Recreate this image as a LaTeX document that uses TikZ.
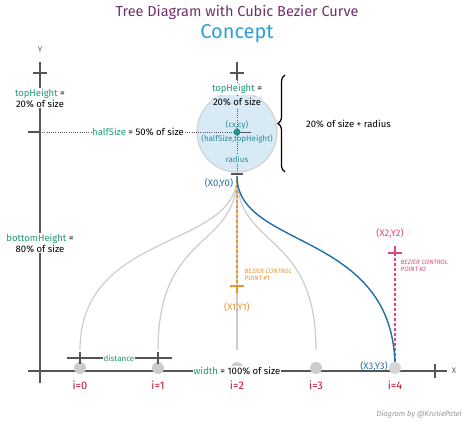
\documentclass[tikz,border=0pt]{standalone}
\usepackage{fontspec}
\setmainfont{Fira Sans}
\usetikzlibrary{decorations.pathreplacing}
\definecolor{ttlpurple}{HTML}{6E2F6E}
\definecolor{ttlblue}{HTML}{2E9FD6}
\definecolor{lblgreen}{HTML}{1E9A78}
\definecolor{lblteal}{HTML}{2A8C96}
\definecolor{crvblue}{HTML}{1F6FA8}
\definecolor{ctrlorange}{HTML}{E8952A}
\definecolor{ctrlpink}{HTML}{E0457B}
\definecolor{icrimson}{HTML}{C8102E}
\definecolor{cfill}{HTML}{D8EAF6}
\definecolor{axisgray}{HTML}{555555}
\definecolor{curvegray}{HTML}{CCCCCC}
\tikzset{
  axisline/.style={draw=axisgray, line width=1.3pt},
  dotline/.style={draw=axisgray, line width=1pt, dash pattern=on 1pt off 1.2pt},
  gcurve/.style={draw=curvegray, line width=1.2pt},
  lbl/.style={inner sep=1pt, font=\fontsize{9.5}{11}\selectfont},
  small/.style={inner sep=1pt, font=\fontsize{8}{9.5}\selectfont},
  coord/.style={inner sep=1pt, font=\fontsize{9.5}{11}\selectfont},
  tiny/.style={inner sep=0.5pt, font=\fontsize{6.3}{7.5}\selectfont\itshape, align=left},
  leaf/.style={circle, fill=curvegray, minimum size=12pt, inner sep=0pt},
  ilbl/.style={inner sep=1pt, text=icrimson, font=\fontsize{11}{12}\selectfont},
}
\begin{document}
\begin{tikzpicture}[x=1pt,y=-1pt]
\useasboundingbox (0,0) rectangle (474,428);
% titles
\node[text=ttlpurple, font=\fontsize{14.5}{16}\selectfont] (t1) at (237,12) {Tree Diagram with Cubic Bezier Curve};
\node[text=ttlblue, font=\fontsize{20}{22}\selectfont] (t2) at (237,34) {Concept};
% axes
\node[small, text=axisgray] (ylab) at (40,50) {Y};
\node[small, text=axisgray] (xlab) at (454,371) {X};
\coordinate (ytop) at (40,62); \coordinate (ybot) at (40,383);
\coordinate (xl) at (28,371); \coordinate (xr) at (447,371);
\draw[axisline] (ytop) -- (ybot);
\draw[axisline] (xl) -- (xr);
\coordinate (yt1a) at (33,73); \coordinate (yt1b) at (47,73);
\draw[axisline] (yt1a) -- (yt1b);
\coordinate (yt2a) at (28,132); \coordinate (yt2b) at (40,132);
\draw[axisline] (yt2a) -- (yt2b);
\coordinate (xta) at (435,364); \coordinate (xtb) at (435,378);
\draw[axisline] (xta) -- (xtb);
% left labels
\node[lbl, fill=white, align=center] (toph) at (40,98) {\textcolor{lblgreen}{topHeight} =\\20\% of size};
\node[lbl, fill=white, align=center] (both) at (40,243) {\textcolor{lblgreen}{bottomHeight} =\\80\% of size};
% circle
\node[circle, minimum size=80pt, inner sep=0pt, fill=cfill, draw=gray!35, line width=1.2pt] (circ) at (237,132) {};
\coordinate (vt0) at (237,62); \coordinate (vt1) at (237,80); \coordinate (vt2) at (237,172);
\draw[axisline] (vt0) -- (vt1);
\coordinate (vta) at (230,73); \coordinate (vtb) at (244,73);
\draw[axisline] (vta) -- (vtb);
\draw[dotline] (vt1) -- (vt2);
% halfSize line
\node[lbl] (half) at (138,132) {\textcolor{lblgreen}{halfSize} = 50\% of size};
\draw[dotline] (yt2b) -- (half.west);
\draw[dotline] (half.east) -- (circ.center);
\coordinate (cr) at (251,132);
\draw[axisline, line width=1pt] (circ.center) -- (cr);
\node[circle, fill=lblteal, minimum size=7pt, inner sep=0pt] (cdot) at (237,132) {};
% inside labels
\node[lbl, fill=white] (intop) at (237,89) {\textcolor{lblgreen}{topHeight} =};
\node[lbl, fill=cfill] (inpct) at (237,102) {20\% of size};
\node[small, text=lblteal] (cxcy) at (237,125) {(cx,cy)};
\node[small, text=lblteal] (hst) at (237,139) {(halfSize,topHeight)};
\node[small, text=lblteal, fill=cfill] (rad) at (237,159) {radius};
% brace
\coordinate (bra) at (285,75); \coordinate (brb) at (285,172);
\draw[line width=1.2pt, decorate, decoration={brace, amplitude=7pt}] (brb) -- (bra);
\node[lbl, anchor=west] (brl) at (305,124) {20\% of size + radius};
% root
\coordinate (root) at (237,176);
\coordinate (rta) at (231,174); \coordinate (rtb) at (243,174);
\node[coord, text=crvblue] (x0) at (219,183) {(X0,Y0)};
% gray curves
\coordinate (e0) at (80,350); \coordinate (e1) at (158,350);
\coordinate (e2) at (237,350); \coordinate (e3) at (316,350);
\draw[gcurve] (root) .. controls (237,250) and (80,230) .. (e0);
\draw[gcurve] (root) .. controls (237,250) and (158,230) .. (e1);
\draw[gcurve] (root) -- (e2);
\draw[gcurve] (root) .. controls (237,250) and (316,230) .. (e3);
% control point 1
\coordinate (o0) at (237,180); \coordinate (o1) at (237,286); \coordinate (o2) at (237,293);
\draw[ctrlorange, line width=1.4pt, dash pattern=on 3pt off 2pt] (o0) -- (o1);
\draw[ctrlorange, line width=1.4pt] (o1) -- (o2);
\coordinate (ota) at (230,286); \coordinate (otb) at (244,286);
\draw[ctrlorange, line width=1.4pt] (ota) -- (otb);
\node[coord, text=ctrlorange] (x1) at (237,307) {(X1,Y1)};
\node[tiny, text=ctrlorange, anchor=west] (b1) at (244,275) {BEZIER CONTROL\\POINT \#1};
% control point 2
\coordinate (p0) at (395,246); \coordinate (p1) at (395,253); \coordinate (p2) at (395,371);
\draw[ctrlpink, line width=1.4pt] (p0) -- (p1);
\draw[ctrlpink, line width=1.4pt, dash pattern=on 3pt off 2pt] (p1) -- (p2);
\coordinate (pta) at (388,253); \coordinate (ptb) at (402,253);
\draw[ctrlpink, line width=1.4pt] (pta) -- (ptb);
\node[coord, text=ctrlpink] (x2) at (390,233) {(X2,Y2)};
\node[tiny, text=ctrlpink, anchor=west] (b2) at (400,266) {BEZIER CONTROL\\POINT \#2};
% blue curve
\coordinate (e4) at (395,368);
\draw[crvblue, line width=1.4pt] (root) .. controls (237,250) and (395,230) .. (e4);
\draw[axisline] (rta) -- (rtb);
% leaves
\node[leaf] (l0) at (80,368) {};
\node[leaf] (l1) at (158,368) {};
\node[leaf] (l2) at (237,368) {};
\node[leaf] (l3) at (316,368) {};
\node[leaf, fill=curvegray!80] (l4) at (395,368) {};
\node[coord, text=crvblue] (x3) at (374,366) {(X3,Y3)};
% distance
\coordinate (da) at (67,358); \coordinate (db) at (172,358);
\draw[axisline] (da) -- (db);
\coordinate (d0a) at (80,352); \coordinate (d0b) at (80,364);
\coordinate (d1a) at (158,352); \coordinate (d1b) at (158,364);
\draw[axisline] (d0a) -- (d0b);
\draw[axisline] (d1a) -- (d1b);
\node[small, fill=white, text=lblgreen] (dist) at (119,358) {distance};
% width
\node[lbl, fill=white] (wid) at (237,371) {\textcolor{lblgreen}{width} = 100\% of size};
% i labels
\node[ilbl] (i0) at (80,385) {i=0};
\node[ilbl] (i1) at (158,385) {i=1};
\node[ilbl] (i2) at (237,385) {i=2};
\node[ilbl] (i3) at (316,385) {i=3};
\node[ilbl] (i4) at (395,385) {i=4};
% credit
\node[small, text=gray!80, font=\fontsize{7.5}{9}\selectfont\itshape, anchor=east] (cred) at (463,414) {Diagram by @KrutiePatel};
\end{tikzpicture}
\end{document}
